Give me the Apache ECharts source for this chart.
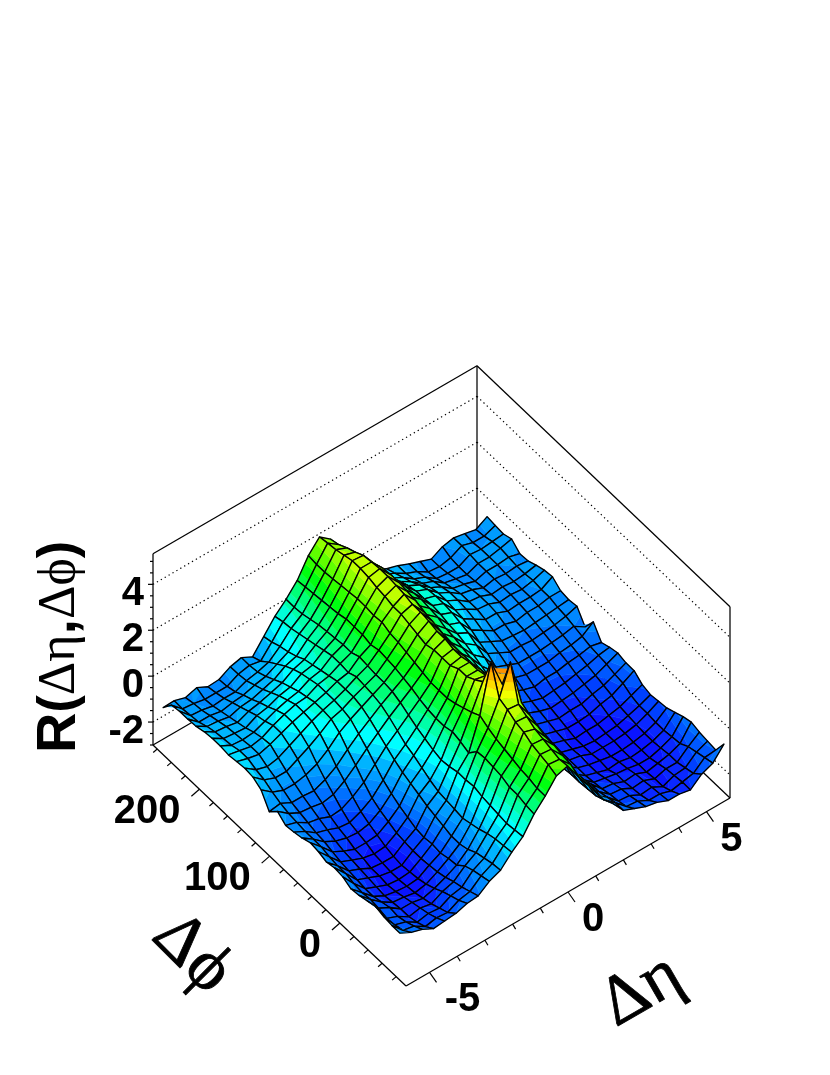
<!DOCTYPE html>
<html><head><meta charset="utf-8">
<style>html,body{margin:0;padding:0;background:#fff}#c{width:830px;height:1075px}</style>
<script src="https://cdn.jsdelivr.net/npm/echarts@6/dist/echarts.min.js"></script>
</head><body><div id="c"></div>
<script>
// ---- data ----
const etaRange = [-5.85, 5.85];
const phiRange = [-94, 266];
const zRange = [-3, 5.33];
const surfacePhiRange = [-85.4, 251.6];
const etaMajorTicks = [-5, 0, 5];
const phiMajorTicks = [0, 100, 200];
const zMajorTicks = [-2, 0, 2, 4];
const etaMinorTicks = [-4,-3,-2,-1,1,2,3,4];
const phiMinorTicks = [-80,-60,-40,-20,20,40,60,80,120,140,160,180,220,240,260];
const zMinorTicks = [-3,-2.5,-1.5,-1,-0.5,0.5,1,1.5,2.5,3,3.5,4.5,5];
const zRows = [
[-.95,-1.2,-1.35,-1.6,-1.55,-1.5,-1.35,-1.3,-.95,-.75,-.25,.15,.85,1.35,1.95,2.1,1.35,.65,-.15,-.65,-1.25,-1.45,-1.65,-1.75,-1.95,-1.95,-2.05,-1.65,-1.45,-.9],
[-.95,-1.45,-1.55,-1.85,-1.75,-1.8,-1.55,-1.45,-1.05,-.8,-.3,.1,.9,1.35,2.1,2.05,1.55,.55,-.05,-.85,-1.25,-1.7,-1.75,-2,-2,-2.15,-2.05,-1.95,-1.55,-1.5],
[-.9,-1.55,-1.7,-2,-1.9,-1.95,-1.7,-1.6,-1.15,-.9,-.35,.05,1,1.45,2.2,2.15,1.6,.65,-.05,-1,-1.35,-1.8,-1.85,-2.1,-2.05,-2.3,-2.1,-2.05,-1.65,-1.45],
[-.8,-1.6,-1.8,-2.1,-2,-2.1,-1.85,-1.7,-1.3,-1,-.45,.1,1,1.5,2.3,2.25,1.7,.65,-.1,-1.05,-1.45,-1.85,-1.9,-2.15,-2.1,-2.3,-2.15,-2.15,-1.75,-1.4],
[-.9,-1.5,-1.75,-2.1,-2.1,-2.2,-2.05,-1.85,-1.6,-1.2,-.6,.15,1.15,1.6,2.5,2.35,1.7,.65,-.15,-1.1,-1.45,-1.95,-2,-2.2,-2.15,-2.35,-2.25,-2.15,-1.95,-1.3],
[-1,-1.45,-1.85,-2.15,-2.2,-2.3,-2.2,-1.95,-1.65,-1.3,-.7,.2,1.2,1.7,2.6,2.55,1.85,.8,-.05,-1.1,-1.6,-2,-2.1,-2.2,-2.25,-2.35,-2.35,-2.2,-2,-1.4],
[-1.05,-1.5,-1.95,-2.2,-2.3,-2.35,-2.3,-2,-1.75,-1.3,-.8,.3,1.25,1.8,2.8,2.75,2,.85,0,-1.15,-1.7,-2.05,-2.2,-2.35,-2.3,-2.4,-2.35,-2.25,-2.05,-1.55],
[-.87,-1.45,-1.95,-2.15,-2.35,-2.4,-2.35,-2.05,-1.7,-1.2,-.75,.25,1.2,1.95,2.95,4.25,2.2,.95,.05,-1.1,-1.7,-2.05,-2.2,-2.3,-2.4,-2.4,-2.35,-2.25,-2.05,-1.7],
[-.82,-1.35,-1.9,-2.1,-2.3,-2.4,-2.4,-2.05,-1.75,-1.1,-.7,.25,.8,2.15,4.2,2.95,2.95,1.05,.05,-1.1,-1.65,-2.05,-2.15,-2.35,-2.35,-2.35,-2.3,-2.2,-2,-1.75],
[-.9,-1.35,-1.85,-2.05,-2.3,-2.35,-2.35,-2,-1.7,-1,-.65,.15,.95,1.95,3,2.9,2.25,1.05,.05,-1.1,-1.65,-2.05,-2.2,-2.35,-2.4,-2.35,-2.3,-2.15,-2,-1.8],
[-.78,-1.3,-1.8,-2,-2.2,-2.3,-2.25,-1.95,-1.55,-.85,-.5,.1,1.05,1.8,2.75,2.65,2.1,1,.15,-1,-1.55,-2,-2.15,-2.35,-2.3,-2.3,-2.2,-2.1,-1.9,-1.7],
[-.73,-1.2,-1.7,-1.95,-2.15,-2.15,-2.1,-1.8,-1.4,-.7,-.3,.2,.95,1.65,2.55,2.55,1.95,.95,.25,-.9,-1.45,-1.95,-2.1,-2.25,-2.25,-2.2,-2.05,-1.95,-1.7,-1.43],
[-.87,-1.2,-1.6,-1.85,-2,-2.05,-1.95,-1.65,-1.2,-.55,-.1,.35,.95,1.55,2.55,2.55,1.95,.95,.3,-.7,-1.3,-1.85,-2,-2.15,-2.1,-2.1,-1.95,-1.85,-1.65,-1.43],
[-.95,-1.2,-1.55,-1.7,-1.9,-1.95,-1.75,-1.45,-.95,-.35,.05,.5,1,1.55,2.35,2.45,1.85,.95,.3,-.6,-1.15,-1.7,-1.9,-2.05,-2,-1.95,-1.85,-1.75,-1.55,-1.34],
[-1,-1.15,-1.45,-1.55,-1.75,-1.7,-1.45,-1.1,-.6,-.1,.3,.7,1.1,1.55,2.35,2.45,1.85,.95,.35,-.4,-1.05,-1.6,-1.8,-1.95,-1.9,-1.85,-1.75,-1.65,-1.5,-1.43],
[-.73,-1.1,-1.35,-1.4,-1.5,-1.4,-1.1,-.7,-.25,.15,.55,.9,1.25,1.65,2.35,2.55,1.85,1,.45,-.3,-.9,-1.45,-1.65,-1.8,-1.7,-1.7,-1.6,-1.55,-1.45,-1.56],
[-1.08,-1,-1.25,-1.25,-1.3,-1.1,-.8,-.35,.05,.4,.75,1.05,1.35,1.75,2.25,2.55,1.85,1.05,.55,-.1,-.6,-1.25,-1.45,-1.6,-1.6,-1.6,-1.5,-1.45,-1.35,-1],
[-.47,-.85,-1.05,-1.05,-.95,-.75,-.4,.05,.35,.6,.85,1.1,1.45,1.85,2.35,2.65,1.95,1.15,.65,.05,-.35,-1.05,-1.25,-1.45,-1.45,-1.45,-1.4,-1.35,-1.25,-1.56],
[-.25,-.65,-.85,-.85,-.6,-.35,-.05,.3,.45,.7,.9,1.1,1.5,1.95,2.45,2.7,2.05,1.2,.75,.2,-.15,-.8,-1.05,-1.3,-1.3,-1.35,-1.3,-1.25,-1.15,-1],
[-.2,-.55,-.7,-.6,-.35,-.1,.15,.35,.5,.7,.95,1.15,1.55,2,2.55,2.7,2.1,1.25,.8,.3,.05,-.65,-.9,-1.15,-1.2,-1.25,-1.2,-1.15,-1.1,-1.05],
[-.25,-.4,-.5,-.35,-.15,.05,.2,.35,.5,.7,.8,1.2,1.45,2.15,2.55,2.8,2.25,1.35,.95,.35,.15,-.45,-.75,-1.05,-1.05,-1.2,-1.1,-1.1,-1,-1],
[-.3,-.4,-.5,-.4,-.15,.05,.2,.25,.5,.6,.85,1.05,1.55,2.1,2.65,2.85,2.3,1.4,1,.45,.25,-.3,-.6,-.9,-.9,-1.1,-1.05,-1.05,-1,-.73],
[-.25,-.5,-.55,-.5,-.3,-.1,.05,.15,.4,.5,.85,1.05,1.55,2.15,2.7,2.9,2.35,1.45,1.05,.5,.3,-.25,-.5,-.8,-.85,-1.05,-1,-1.05,-.95,-.78],
[-.25,-.55,-.6,-.65,-.4,-.3,-.1,0,.3,.4,.75,1,1.55,2.15,2.8,2.9,2.35,1.45,1,.45,.3,-.2,-.45,-.8,-.85,-1.05,-1,-1.05,-1,-.9],
[-.3,-.6,-.65,-.75,-.55,-.45,-.3,-.15,.15,.3,.65,.95,1.45,2.1,2.85,2.85,2.3,1.45,.95,.45,.25,-.2,-.45,-.8,-.9,-1.1,-1,-1.05,-1,-1.05],
[-.4,-.7,-.75,-.85,-.7,-.65,-.5,-.35,-.05,.1,.55,.9,1.4,2.05,2.85,2.8,2.15,1.35,.85,.35,.1,-.3,-.55,-.9,-1,-1.15,-1,-1,-.95,-1.08],
[-.43,-.85,-.85,-.95,-.85,-.8,-.65,-.55,-.3,-.05,.45,.8,1.35,2,2.75,2.6,2,1.15,.7,.2,-.1,-.45,-.65,-1,-1.1,-1.2,-1,-1,-.9,-.78],
[-.43,-.9,-.95,-1.05,-1,-1,-.8,-.7,-.55,-.15,.35,.7,1.3,1.95,2.65,2.45,1.85,1,.5,0,-.25,-.6,-.8,-1.15,-1.2,-1.2,-.95,-1,-.95,-.9],
[-.5,-.95,-1,-1.1,-1.1,-1.1,-.85,-.75,-.85,-.3,.3,.65,1.25,1.95,2.6,2.25,1.7,.85,.35,-.2,-.4,-.7,-.9,-1.2,-1.25,-1.15,-.9,-1.05,-1.05,-.87],
[-.95,-.93,-1.08,-.93,-1.17,-1.14,-.87,-.75,-1,-.4,.2,.66,1.2,2,2.53,2.15,1.5,.8,.2,-.3,-.55,-.7,-.9,-1.08,-1.26,-1,-.9,-1,-1.1,-.82]
];
// contour bands: lower z edge and colour
const bandEdges = [-3,-2.2,-2,-1.75,-1.5,-1.25,-1,-.75,-.4,-.1,.25,.55,.85,1.15,1.45,1.75,2.05,2.35,2.65,2.95,3.25,3.55,3.85];
const bandColors = ['#0a14ff','#0a28ff','#0040ff','#0058ff','#0070ff','#0088ff','#009cff','#00b4ff','#00dcff','#00ffff','#00ffd8','#00ffa8','#00ff78','#00ff40','#00ff10','#30ff00','#60ff00','#90ff00','#c0ff00','#f0ff00','#ffdc00','#ffb400','#ff9000'];
// ---- projection (box corners of the 3D frame) ----
const origin = [406, 986], etaVec = [324, -188], phiVec = [-253, -241], zScale = 22.95;
function proj(eta, phi, z) {
  const u = (eta - etaRange[0]) / (etaRange[1] - etaRange[0]);
  const v = (phi - phiRange[0]) / (phiRange[1] - phiRange[0]);
  return [origin[0] + u*etaVec[0] + v*phiVec[0],
          origin[1] + u*etaVec[1] + v*phiVec[1] - (z - zRange[0])*zScale];
}
const nJ = zRows.length, nI = zRows[0].length;
const etaAt = i => etaRange[0] + (etaRange[1]-etaRange[0])*i/(nI-1);
const phiAt = j => surfacePhiRange[0] + (surfacePhiRange[1]-surfacePhiRange[0])*j/(nJ-1);
const cells = [];
for (let j = nJ-2; j >= 0; j--) for (let i = nI-2; i >= 0; i--) cells.push([i, j]);

function clipAbove(poly, lvl, keepAbove) {
  const out = [];
  for (let k = 0; k < poly.length; k++) {
    const a = poly[k], b = poly[(k+1)%poly.length];
    const ia = keepAbove ? a[2] >= lvl : a[2] <= lvl;
    const ib = keepAbove ? b[2] >= lvl : b[2] <= lvl;
    if (ia) out.push(a);
    if (ia !== ib) {
      const t = (lvl - a[2])/(b[2]-a[2]);
      out.push([a[0]+t*(b[0]-a[0]), a[1]+t*(b[1]-a[1]), lvl]);
    }
  }
  return out;
}
function renderCell(params, api) {
  const i = api.value(0), j = api.value(1);
  const corners = [[i,j],[i+1,j],[i+1,j+1],[i,j+1]].map(([a,b]) => {
    const z = zRows[b][a];
    const p = api.coord(proj(etaAt(a), phiAt(b), z));
    return [p[0], p[1], z];
  });
  const children = [];
  for (let b = 0; b < bandEdges.length; b++) {
    const lo = bandEdges[b], hi = b+1 < bandEdges.length ? bandEdges[b+1] : 99;
    let poly = clipAbove(corners, lo, true);
    if (poly.length < 3) continue;
    poly = clipAbove(poly, hi, false);
    if (poly.length < 3) continue;
    children.push({type:'polygon', shape:{points:poly.map(p=>[p[0],p[1]])},
      style:{fill:bandColors[b], stroke:bandColors[b], lineWidth:0.5}, silent:true});
  }
  children.push({type:'polygon', shape:{points:corners.map(p=>[p[0],p[1]])},
    style:{fill:'none', stroke:'#000', lineWidth:1.35, lineJoin:'round'}, silent:true});
  return {type:'group', children};
}
// frame segments in data coordinates: [eta,phi,z, eta,phi,z, dash]
const [e0,e1] = etaRange, [p0,p1] = phiRange, [z0,z1] = zRange;
const frameSegs = [
 [e0,p1,z0,e0,p1,z1,0],[e1,p1,z0,e1,p1,z1,0],[e1,p0,z0,e1,p0,z1,0],
 [e0,p1,z1,e1,p1,z1,0],[e1,p1,z1,e1,p0,z1,0],
 [e0,p1,z0,e1,p1,z0,0],[e1,p1,z0,e1,p0,z0,0],
 [e0,p1,z0,e0,p0,z0,0],[e0,p0,z0,e1,p0,z0,0]
];
zMajorTicks.forEach(z => { frameSegs.push([e0,p1,z,e1,p1,z,1]); frameSegs.push([e1,p1,z,e1,p0,z,1]); });
function renderSeg(params, api) {
  const s = frameSegs[api.value(0)];
  const a = api.coord(proj(s[0],s[1],s[2])), b = api.coord(proj(s[3],s[4],s[5]));
  return {type:'line', shape:{x1:a[0],y1:a[1],x2:b[0],y2:b[1]},
    style: s[6] ? {stroke:'#000', lineWidth:1.2, lineDash:[1.3,3.2]} : {stroke:'#000', lineWidth:1.25}, silent:true};
}
// ticks: [eta,phi,z, dx,dy]
const tickSegs = [];
etaMajorTicks.forEach(e => tickSegs.push([e,p0,z0,7,10]));
etaMinorTicks.forEach(e => tickSegs.push([e,p0,z0,3,5]));
phiMajorTicks.forEach(p => tickSegs.push([e0,p,z0,-8,7]));
phiMinorTicks.forEach(p => tickSegs.push([e0,p,z0,-4,3.5]));
zMajorTicks.forEach(z => tickSegs.push([e0,p1,z,-5,0]));
zMinorTicks.forEach(z => tickSegs.push([e0,p1,z,-3,0]));
function renderTick(params, api) {
  const s = tickSegs[api.value(0)];
  const a = api.coord(proj(s[0],s[1],s[2]));
  return {type:'line', shape:{x1:a[0],y1:a[1],x2:a[0]+s[3],y2:a[1]+s[4]},
    style:{stroke:'#000', lineWidth:1.2}, silent:true};
}
const tickLabels = [];
etaMajorTicks.forEach(e => tickLabels.push([String(e), e,p0,z0, e<0?33:25, 28, 'center']));
phiMajorTicks.forEach(p => tickLabels.push([String(p), e0,p,z0, -19, 23, 'right']));
zMajorTicks.forEach(z => tickLabels.push([String(z), e0,p1,z, -9, 10, 'right']));
function renderLabel(params, api) {
  const s = tickLabels[api.value(0)];
  const a = api.coord(proj(s[1],s[2],s[3]));
  return {type:'text', x:a[0]+s[4], y:a[1]+s[5], silent:true,
    style:{text:s[0], fill:'#000', align:s[6], verticalAlign:'middle',
      font:'bold 40px "Liberation Sans", Arial, sans-serif'}};
}
const idx = a => a.map((_,k)=>[k]);
const chart = echarts.init(document.getElementById('c'), null, {renderer:'canvas'});
const base = {type:'custom', coordinateSystem:'cartesian2d', clip:false, animation:false, silent:true};
chart.setOption({
  animation:false,
  backgroundColor:'#fff',
  tooltip:{show:false},
  grid:{left:0,right:0,top:0,bottom:0},
  xAxis:{type:'value',min:0,max:830,show:false},
  yAxis:{type:'value',min:0,max:1075,inverse:true,show:false},
  graphic:{elements:[
    {type:'text', x:60, y:753, rotation:Math.PI/2, silent:true,
     style:{text:'{b|R}{p|(}{s|Δη}{b|,}{s|Δϕ}{p|)}', align:'left', verticalAlign:'middle',
       rich:{
         b:{font:'bold 56px "Liberation Sans", sans-serif', fill:'#000'},
         p:{font:'bold 52px "Liberation Sans", sans-serif', fill:'#000'},
         s:{font:'52px "Liberation Serif", serif', fill:'#000'}
       }}},
    {type:'text', x:192, y:954, rotation:-Math.PI/4, silent:true,
     style:{text:'Δϕ', align:'center', verticalAlign:'middle', fill:'#000', stroke:'#000', lineWidth:0.8,
       font:'70px "Liberation Serif", serif'}},
    {type:'text', x:642, y:991, rotation:Math.PI/6, silent:true,
     style:{text:'Δη', align:'center', verticalAlign:'middle', fill:'#000', stroke:'#000', lineWidth:0.8,
       font:'70px "Liberation Serif", serif'}}
  ]},
  series:[
    Object.assign({},base,{name:'frame', data:idx(frameSegs), renderItem:renderSeg, z:1}),
    Object.assign({},base,{name:'ticks', data:idx(tickSegs), renderItem:renderTick, z:1}),
    Object.assign({},base,{name:'surface', data:cells, renderItem:renderCell, z:2, progressive:0}),
    Object.assign({},base,{name:'labels', data:idx(tickLabels), renderItem:renderLabel, z:3})
  ]
});
</script></body></html>
